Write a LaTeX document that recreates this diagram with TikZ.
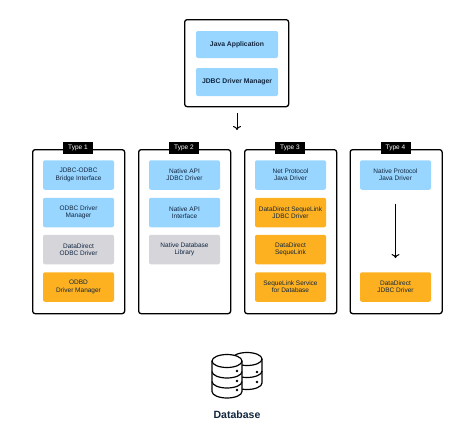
\documentclass[tikz,border=0pt]{standalone}
\usepackage{fontspec}
\usetikzlibrary{arrows.meta}
\setmainfont{Liberation Sans}
\definecolor{skyblue}{HTML}{99D6FF}
\definecolor{ambre}{HTML}{FDB120}
\definecolor{lightgrey}{HTML}{D5D5DA}
\definecolor{inkblue}{HTML}{10253F}
\tikzset{
  frame/.style={draw=black, line width=1.3pt, rounded corners=2.5pt, fill=white, anchor=north west, inner sep=0pt},
  part/.style={fill=#1, rounded corners=2pt, minimum width=71pt, minimum height=29.5pt, inner sep=0pt,
    align=center, text=inkblue, font=\fontsize{6.5}{7.2}\selectfont},
  part/.default=skyblue,
  tag/.style={fill=black, text=white, minimum width=30pt, minimum height=12pt, inner sep=0pt,
    font=\fontsize{6.5}{7}\selectfont},
  flow/.style={draw=black, line width=1pt, -{To[length=4pt,width=8pt]}},
  drum/.style={draw=black, line width=1.2pt, fill=white},
}
\begin{document}
\begin{tikzpicture}[x=1pt, y=-1pt, >=stealth]
  \useasboundingbox (0,0) rectangle (474,442);
  % top block
  \node[frame, minimum width=104pt, minimum height=87pt] (top) at (184,19) {};
  \node[part, minimum width=82pt, minimum height=27pt, font=\fontsize{6.8}{7}\selectfont\bfseries] (app) at (237,44.5) {Java Application};
  \node[part, minimum width=82pt, minimum height=28pt, font=\fontsize{6.8}{7}\selectfont\bfseries] (manager) at (237,82) {JDBC Driver Manager};
  \coordinate (types) at (237,130);
  \draw[flow, shorten <=6pt] (top.south -| types) -- (types);
  % the four driver columns
  \foreach \name/\xpos/\tagtext in {one/32/Type 1, two/138/Type 2, three/244/Type 3, four/349.5/Type 4} {
    \node[frame, minimum width=92pt, minimum height=164pt] (\name) at (\xpos,149) {};
    \node[tag] (tag\name) at (\xpos+46,148) {\tagtext};
  }
  % type 1
  \node[part] (bridge) at (78.5,175) {JDBC-ODBC\\Bridge Interface};
  \node[part] (odbcman) at (78.5,212.5) {ODBC Driver\\Manager};
  \node[part=lightgrey] (odbcdrv) at (78.5,249.5) {DataDirect\\ODBC Driver};
  \node[part=ambre] (drvman) at (78.5,287) {ODBD\\Driver Manager};
  % type 2
  \node[part] (natjdbc) at (184.5,175) {Native API\\JDBC Driver};
  \node[part] (natapi) at (184.5,212.5) {Native API\\Interface};
  \node[part=lightgrey] (natlib) at (184.5,249.5) {Native Database\\Library};
  % type 3
  \node[part] (netprot) at (290.5,175) {Net Protocol\\Java Driver};
  \node[part=ambre] (seqjdbc) at (290.5,212.5) {DataDirect SequeLink\\JDBC Driver};
  \node[part=ambre] (seqlink) at (290.5,249.5) {DataDirect\\SequeLink};
  \node[part=ambre] (seqserv) at (290.5,287) {SequeLink Service\\for Database};
  % type 4
  \node[part] (natprot) at (395.5,175) {Native Protocol\\Java Driver};
  \node[part=ambre] (ddjdbc) at (395.5,287) {DataDirect\\JDBC Driver};
  \draw[flow, shorten <=14pt, shorten >=14pt] (natprot) -- (ddjdbc);
  % database icon, back drum first
  \draw[drum] (232,359) -- (232,383) arc[start angle=180, end angle=0, x radius=15, y radius=6.5]
    -- (262,359);
  \draw[drum, fill=none] (232,371) arc[start angle=180, end angle=0, x radius=15, y radius=6.5];
  \draw[drum] (247,359) ellipse[x radius=15, y radius=6.5];
  \fill (257,372) circle (1.3) (257,382) circle (1.3);
  \draw[drum] (212,361) -- (212,391.5) arc[start angle=180, end angle=0, x radius=15, y radius=6.5]
    -- (242,361);
  \foreach \ypos in {371.5,381.5} {
    \draw[drum, fill=none] (212,\ypos) arc[start angle=180, end angle=0, x radius=15, y radius=6.5];
  }
  \draw[drum] (227,361) ellipse[x radius=15, y radius=6.5];
  \fill (237,371) circle (1.3) (237,381) circle (1.3) (237,390) circle (1.3);
  \node[font=\fontsize{10.5}{12}\selectfont\bfseries, text=inkblue] (database) at (237,415) {Database};
\end{tikzpicture}
\end{document}
